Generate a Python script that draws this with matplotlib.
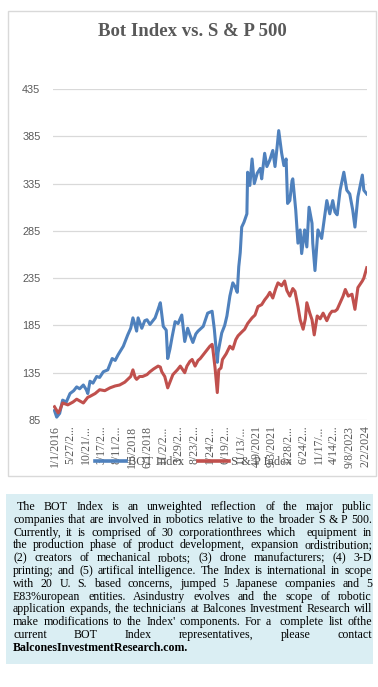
import matplotlib
matplotlib.use("Agg")
import matplotlib.pyplot as plt
from matplotlib.patches import Rectangle
from matplotlib.lines import Line2D

W, H = 378, 687

# weekly closes, week 0 = 1/1/2016
bot_weeks = [0, 3, 7, 11, 16, 21, 26, 30, 34, 39, 43, 45, 48, 52, 57, 61, 66, 72, 78, 82,
             86, 93, 99, 103, 106, 109, 111, 113, 118, 122, 125, 129, 133, 136, 140, 143, 144, 147, 151, 153,
             156, 159, 163, 167, 172, 176, 180, 183, 187, 191, 194, 201, 207, 213, 216, 220, 221, 226, 230, 233,
             237, 241, 244, 247, 249, 251, 253, 256, 260, 261, 264, 267, 270, 274, 278, 280, 284, 287, 291, 295,
             298, 301, 303, 307, 310, 313, 315, 318, 321, 322, 326, 329, 332, 334, 338, 341, 344, 348, 349, 352,
             356, 361, 365, 368, 372, 376, 379, 382, 386, 391, 395, 399, 403, 406, 410, 416, 418, 422]
bot_vals = [95, 88, 92, 106, 104, 113, 116, 120, 118, 122, 117, 113, 126, 124, 131, 130, 136, 138, 150, 148,
            154, 163, 175, 182, 193, 185, 179, 193, 182, 190, 191, 186, 190, 193, 202, 209, 203, 184, 180, 150,
            160, 173, 189, 187, 196, 168, 182, 175, 167, 176, 179, 184, 198, 200, 181, 146, 156, 177, 185, 195,
            216, 230, 226, 220, 247, 262, 289, 294, 303, 347, 333, 361, 335, 346, 351, 340, 367, 353, 360, 370,
            353, 375, 391, 367, 354, 361, 314, 317, 338, 340, 307, 272, 286, 261, 286, 268, 310, 293, 272, 243,
            286, 277, 300, 317, 303, 317, 305, 302, 328, 347, 328, 324, 307, 289, 321, 344, 328, 324]

sp_weeks = [0, 5, 7, 11, 18, 25, 30, 39, 45, 48, 55, 61, 68, 75, 82, 88, 95, 99, 103, 106,
            109, 111, 115, 119, 125, 129, 134, 140, 143, 145, 149, 153, 156, 160, 166, 170, 176, 179, 183, 186,
            190, 194, 197, 202, 206, 210, 213, 214, 217, 220, 222, 225, 227, 232, 237, 241, 245, 248, 253, 257,
            261, 267, 271, 275, 280, 284, 288, 291, 295, 299, 302, 307, 311, 314, 318, 322, 325, 329, 332, 336,
            339, 341, 345, 348, 351, 355, 359, 363, 368, 372, 375, 379, 382, 386, 390, 393, 397, 402, 406, 410,
            416, 418, 422]
sp_vals = [99, 92.5, 95, 103, 101, 104, 107, 103, 109, 110, 113, 117, 116, 119, 121, 122, 125, 128, 131, 138,
           130, 128, 131, 131, 133, 136, 139, 142, 141, 136, 131, 119, 125, 133, 138, 142, 135, 142, 147, 149,
           142, 148, 150, 155, 159, 163, 165, 160, 140, 114, 138, 140, 149, 155, 163, 160, 170, 174, 178, 181,
           187, 193, 196, 205, 207, 212, 216, 220, 214, 224, 230, 227, 232, 222, 216, 224, 221, 205, 191, 181,
           192, 209, 198, 191, 175, 195, 192, 198, 190, 197, 200, 200, 202, 209, 216, 223, 216, 218, 202, 225,
           232, 235, 246]

date_labels = ["1/1/2016", "5/27/2...", "10/21/...", "3/17/2...", "8/11/2...", "1/5/2018", "6/1/2018",
               "11/2/2...", "3/29/2...", "8/23/2...", "1/24/2...", "6/19/2...", "11/13/...", "4/9/2021",
               "9/3/2021", "1/28/2...", "6/24/2...", "11/17/...", "4/14/2...", "9/8/2023", "2/2/2024"]
y_ticks = [85, 135, 185, 235, 285, 335, 385, 435]

body_lines = [
    " The BOT Index is an unweighted reflection of the major public",
    "companies that are involved in robotics relative to the broader S & P 500.",
    "Currently, it is comprised of 30 corporationthrees which  equipment in",
    "the production phase of product development, expansion ordistribution;",
    "(2) creators of mechanical robots; (3) drone manufacturers; (4) 3-D",
    "printing; and (5) artifical intelligence. The Index is international in scope",
    "with 20 U. S. based concerns, jumped 5 Japanese companies and 5",
    "E83%uropean entities. Asindustry evolves and the scope of robotic",
    "application expands, the technicians at Balcones Investment Research will",
    "make modifications to the Index' components. For a  complete list ofthe",
    "current BOT Index representatives, please contact",
]
body_link = "BalconesInvestmentResearch.com."

blue = "#4F81BD"
red = "#C0504D"
grey = "#595959"
serif = "Liberation Serif"

fig = plt.figure(figsize=(W / 100, H / 100), dpi=100)
renderer = fig.canvas.get_renderer()

# chart frame and text panel
fig.patches.append(Rectangle((8 / W, 1 - 476 / H), 368 / W, 465 / H, transform=fig.transFigure,
                             fill=False, edgecolor="#d9d9d9", lw=1))
fig.patches.append(Rectangle((6 / W, 1 - 664 / H), 367 / W, 170 / H, transform=fig.transFigure,
                             facecolor="#DAEEF3", edgecolor="none"))

fig.text(192 / W, 1 - 32 / H, "Bot Index vs. S & P 500", ha="center", va="center",
         fontsize=13.5, fontweight="bold", family=serif, color=grey)

ax = fig.add_axes([53 / W, 1 - 420 / H, (367 - 53) / W, (420 - 89) / H])
ax.plot(bot_weeks, bot_vals, color=blue, lw=2.2, solid_joinstyle="round")
ax.plot(sp_weeks, sp_vals, color=red, lw=2.2, solid_joinstyle="round")
ax.set_xlim(-2, 422.3)
ax.set_ylim(85, 435)
ax.set_yticks(y_ticks)
ax.set_yticklabels([str(v) for v in y_ticks], family="Liberation Sans", fontsize=7.8, color=grey)
ax.set_xticks(list(range(0, 21 * len(date_labels), 21)))
ax.set_xticklabels(date_labels, rotation=90, family=serif, fontsize=8.5, color=grey, va="top")
ax.tick_params(length=0, pad=4)
ax.tick_params(axis="y", pad=9)
ax.grid(axis="y", color="#d9d9d9", lw=0.9)
ax.set_axisbelow(True)
for s in ax.spines.values():
    s.set_visible(False)
ax.patch.set_alpha(0)

handles = [Line2D([], [], color=blue, lw=2.6), Line2D([], [], color=red, lw=2.6)]
fig.legend(handles, ["BOT Index", "S & P Index"], loc="center", bbox_to_anchor=(193 / W, 1 - 462 / H),
           ncol=2, frameon=False, prop={"family": serif, "size": 9}, labelcolor=grey,
           handlelength=2.5, handletextpad=0.15, columnspacing=1.1)


def text_width(s, **kw):
    t = fig.text(0, 0, s, **kw)
    w = t.get_window_extent(renderer).width
    t.remove()
    return w


# justified body text
left, right = 13, 372
base0, step = 510, 12.8
body_size = 9.5
while text_width(body_lines[1], family=serif, fontsize=body_size) > (right - left) - 4:
    body_size -= 0.1

for i, line in enumerate(body_lines):
    y = 1 - (base0 + step * i) / H
    x0 = left
    if line.startswith(" "):
        x0 += 4
        line = line[1:]
    words = line.split(" ")
    widths = [text_width(w, family=serif, fontsize=body_size) if w else 0 for w in words]
    gap = (right - x0 - sum(widths)) / (len(words) - 1)
    x = x0
    for w, wd in zip(words, widths):
        if w:
            fig.text(x / W, y, w, family=serif, fontsize=body_size, va="baseline", ha="left")
        x += wd + gap

fig.text(left / W, 1 - (base0 + step * len(body_lines)) / H, body_link, family=serif,
         fontsize=body_size, fontweight="bold", va="baseline", ha="left")

fig.savefig("out.png", dpi=100)
